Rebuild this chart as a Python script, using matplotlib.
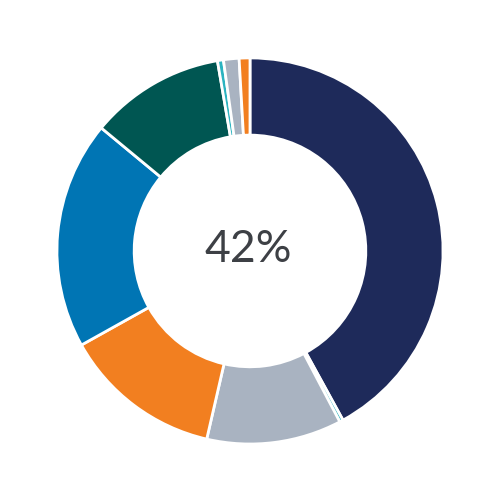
import matplotlib

matplotlib.use("Agg")
import matplotlib.pyplot as plt

# slice shares in percent, clockwise from 12 o'clock
labels = ["navy", "teal_a", "gray_a", "orange_a", "blue", "dark_teal",
          "teal_b", "gray_b", "orange_b"]
shares = [42.0, 0.3, 11.3, 13.3, 19.1, 11.3, 0.5, 1.3, 0.9]
colors = ["#1e2a5a", "#2bb3c0", "#a9b3c1", "#f27f20", "#0075b4", "#005652",
          "#2bb3c0", "#a9b3c1", "#f27f20"]
center_label = "42%"

fig = plt.figure(figsize=(5, 5), dpi=100)
ax = fig.add_axes([0, 0, 1, 1])

ax.pie(shares, colors=colors, startangle=90, counterclock=False,
       radius=1.0, wedgeprops=dict(width=0.4, edgecolor="white", linewidth=2))

ax.text(-0.01, 0.005, center_label, ha="center", va="center",
        fontsize=32, color="#3d4045", family=["Lato", "DejaVu Sans"])

ax.set_aspect("equal")
ax.set_xlim(-1.295, 1.295)
ax.set_ylim(-1.29, 1.30)
ax.axis("off")

fig.savefig("out.png", dpi=100, facecolor="white")
